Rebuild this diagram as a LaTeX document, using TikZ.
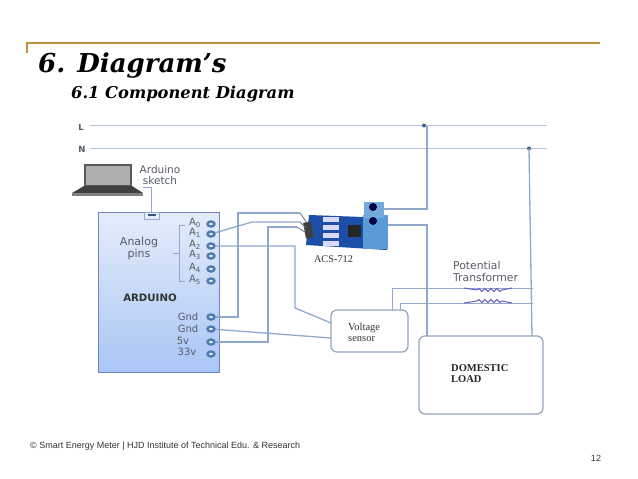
\documentclass[tikz,border=0pt]{standalone}
\usepackage{fontspec}
\setmainfont{Liberation Serif}
\newfontfamily\titlefont{DejaVu Serif}
\newfontfamily\labelfont{DejaVu Sans}
\newfontfamily\footfont{Liberation Sans}
\usetikzlibrary{decorations.pathmorphing, shapes.geometric}
\definecolor{wirec}{HTML}{8FA8CC}
\definecolor{mainsc}{HTML}{B4C4DA}
\definecolor{holec}{HTML}{4F7BAE}
\definecolor{boxc}{HTML}{8FA3BC}
\definecolor{rulec}{HTML}{C08F3C}
\definecolor{pcbc}{HTML}{1C4FA8}
\definecolor{termc}{HTML}{5B9BD5}
\definecolor{coilc}{HTML}{6A5FC0}
\definecolor{textc}{HTML}{555B66}
\definecolor{boardtop}{HTML}{E4ECFA}
\definecolor{boardbot}{HTML}{A9C6F5}
\tikzset{
  wire/.style = {draw=wirec, line width=1.3pt},
  thinwire/.style = {draw=wirec, line width=1pt},
  mains/.style = {draw=mainsc, line width=1.3pt},
  pinhole/.style = {draw=holec, fill=boardtop, ellipse, line width=2.4pt, inner sep=0pt, minimum width=7pt, minimum height=5pt},
  pinname/.style = {font=\labelfont\fontsize{10}{10}\selectfont, text=textc, inner sep=0pt},
  tap/.style = {fill=holec!80!black, circle, inner sep=0pt, minimum size=4pt},
  roundbox/.style = {draw=boxc, fill=white, line width=1.2pt, rounded corners=6pt},
  legwire/.style = {draw=wirec!70!black, line width=.8pt},
  chipres/.style = {fill=white!85!blue, inner sep=0pt, minimum width=16pt, minimum height=5pt},
  coilwire/.style = {draw=coilc, line width=1pt, decoration={snake, segment length=6pt, amplitude=1.5pt}}
}
\begin{document}
\begin{tikzpicture}[x=1pt, y=-1pt]
\useasboundingbox (0,0) rectangle (638,479);

\draw[rulec, line width=1.2pt] (27,53) -- (27,43) -- (600,43);
\node[anchor=base west, inner sep=0pt, font=\titlefont\bfseries\itshape\fontsize{26}{26}\selectfont] (title) at (38,72) {6. Diagram’s};
\node[anchor=base west, inner sep=0pt, font=\titlefont\bfseries\itshape\fontsize{16.3}{16}\selectfont] (subtitle) at (71,98) {6.1 Component Diagram};
\node[anchor=west, inner sep=0pt, font=\footfont\fontsize{9}{9}\selectfont, text=black!80] (foot) at (30,446) {© Smart Energy Meter | HJD Institute of Technical Edu. \& Research};
\node[inner sep=0pt, font=\footfont\fontsize{9}{9}\selectfont, text=black!80] (pageno) at (596,458) {12};

\node[font=\labelfont\bfseries\fontsize{8.5}{8}\selectfont, text=textc, inner sep=0pt] (lname) at (81,127) {L};
\node[font=\labelfont\bfseries\fontsize{8.5}{8}\selectfont, text=textc, inner sep=0pt] (nname) at (82,149) {N};
\coordinate (lstart) at (90,125.5);
\coordinate (lend) at (547,125.5);
\coordinate (nstart) at (90,148.5);
\coordinate (nend) at (547,148.5);
\draw[mains] (lstart) -- (lend);
\draw[mains] (nstart) -- (nend);
\node[tap] (ltap) at (424,125.5) {};
\node[tap] (ntap) at (529,148.5) {};

\node[draw=black!65, fill=black!32, line width=2pt, minimum width=46pt, minimum height=21pt, inner sep=0pt] (screen) at (108,175) {};
\fill[black!75] (84,186) -- (132,186) -- (143,193) -- (72,193) -- cycle;
\node[fill=black!50, minimum width=71pt, minimum height=3pt, inner sep=0pt] (laptop) at (107.5,194.5) {};
\node[align=center, font=\labelfont\fontsize{10.5}{11}\selectfont, text=textc, inner sep=0pt] (sketch) at (160,175.5) {Arduino\\sketch};

\node[draw=boxc!80!blue, top color=boardtop, bottom color=boardbot, line width=1pt, minimum width=121pt, minimum height=160pt, inner sep=0pt] (arduino) at (158.5,292) {};
\node[draw=wirec, fill=boardtop, line width=.8pt, minimum width=15pt, minimum height=7pt, inner sep=0pt] (usb) at (151.5,215.5) {};
\fill[holec!70!black] (148,213.5) rectangle (156,215.5);
\coordinate (lapout) at (143,187);
\coordinate (lapbend) at (151.5,187);
\draw[thinwire] (lapout) -- (lapbend) -- (usb.north);

\node[align=center, font=\labelfont\fontsize{11}{12}\selectfont, text=textc, inner sep=0pt] (analog) at (139,248) {Analog\\pins};
\node[font=\labelfont\bfseries\fontsize{10.2}{10}\selectfont, text=black!80, inner sep=0pt] (board) at (150,298) {ARDUINO};

\node[pinhole] (a0) at (211,224) {};
\node[pinhole] (a1) at (211,234) {};
\node[pinhole] (a2) at (211,246) {};
\node[pinhole] (a3) at (211,256) {};
\node[pinhole] (a4) at (211,269) {};
\node[pinhole] (a5) at (211,281) {};
\node[pinhole] (gnda) at (211,317) {};
\node[pinhole] (gndb) at (211,329) {};
\node[pinhole] (fivev) at (211,342) {};
\node[pinhole] (threev) at (211,354) {};
\node[pinname] (a0name) at (195,223) {A\textsubscript{0}};
\node[pinname] (a1name) at (195,233) {A\textsubscript{1}};
\node[pinname] (a2name) at (195,245) {A\textsubscript{2}};
\node[pinname] (a3name) at (195,255) {A\textsubscript{3}};
\node[pinname] (a4name) at (195,268) {A\textsubscript{4}};
\node[pinname] (a5name) at (195,280) {A\textsubscript{5}};
\node[pinname] (gndaname) at (188,317) {Gnd};
\node[pinname] (gndbname) at (188,329) {Gnd};
\node[pinname] (fivename) at (183,341) {5v};
\node[pinname] (threename) at (187,352) {33v};
\coordinate (brtop) at (179,225);
\coordinate (brtopin) at (185,225);
\coordinate (brbot) at (179,281.5);
\coordinate (brbotin) at (185,281.5);
\coordinate (brmid) at (179,253);
\coordinate (brtick) at (173,253);
\draw[thinwire] (brtopin) -- (brtop) -- (brbot) -- (brbotin);
\draw[thinwire] (brmid) -- (brtick);

\fill[pcbc] (309,215) -- (363,217) -- (387,217) -- (387,250) -- (306,245) -- cycle;
\node[chipres] (resa) at (331,219) {};
\node[chipres] (resb) at (331,227) {};
\node[chipres] (resc) at (331,235) {};
\node[chipres] (resd) at (331,243) {};
\node[fill=black!85, minimum width=13pt, minimum height=12pt, inner sep=0pt] (chip) at (354.5,231) {};
\node[fill=termc, minimum width=25pt, minimum height=34pt, inner sep=0pt] (terminal) at (375.5,232) {};
\node[fill=termc!85!white, minimum width=20pt, minimum height=16pt, inner sep=0pt] (termtop) at (374,210) {};
\node[fill=black!75!blue, circle, minimum size=8pt, inner sep=0pt] (holea) at (373,207) {};
\node[fill=black!75!blue, circle, minimum size=8pt, inner sep=0pt] (holeb) at (373,221) {};
\node[fill=black!75, minimum width=8pt, minimum height=16pt, inner sep=0pt, rotate=10] (header) at (308.5,230) {};
\node[anchor=base, inner sep=0pt, font=\fontsize{10.3}{10}\selectfont, text=black!80] (acsname) at (333.5,262) {ACS-712};
\coordinate (lega) at (300,213);
\coordinate (legb) at (300,222);
\coordinate (legc) at (297,227);
\coordinate (pina) at (307,223);
\coordinate (pinb) at (306,228);
\coordinate (pinc) at (305,232);
\draw[legwire] (lega) -- (pina);
\draw[legwire] (legb) -- (pinb);
\draw[legwire] (legc) -- (pinc);

\node[roundbox, minimum width=77pt, minimum height=42pt, inner sep=0pt] (sensor) at (369.5,331) {};
\node[align=left, anchor=west, inner sep=0pt, font=\fontsize{10.5}{11.5}\selectfont, text=black!80] (sensorname) at (348,332.5) {Voltage\\sensor};
\node[roundbox, minimum width=124pt, minimum height=78pt, inner sep=0pt] (load) at (481,375) {};
\node[align=left, anchor=west, inner sep=0pt, font=\bfseries\fontsize{10.5}{11.5}\selectfont, text=black!85] (loadname) at (451,373.5) {DOMESTIC\\LOAD};
\node[align=left, anchor=west, inner sep=0pt, font=\labelfont\fontsize{10.8}{12}\selectfont, text=textc] (ptname) at (453,271) {Potential\\Transformer};

\coordinate (gndup) at (238,317);
\coordinate (gndtop) at (238,213);
\coordinate (vccup) at (268,342);
\coordinate (vcctop) at (268,227);
\coordinate (asig) at (252,222);
\coordinate (vout) at (295,246);
\coordinate (vdown) at (295,308);
\coordinate (vin) at (331,323);
\coordinate (vgnd) at (331,338);
\draw[wire] (gnda) -- (gndup) -- (gndtop) -- (lega);
\draw[wire] (fivev) -- (vccup) -- (vcctop) -- (legc);
\draw[wire] (a1) -- (asig) -- (legb);
\draw[wire] (a2) -- (vout) -- (vdown) -- (vin);
\draw[wire] (gndb) -- (vgnd);

\coordinate (lbend) at (427,209);
\coordinate (ltop) at (427,125.5);
\coordinate (lterm) at (384,209);
\coordinate (rterm) at (388,225);
\coordinate (rbend) at (427,225);
\coordinate (lloadin) at (427,336);
\coordinate (ndown) at (532,336);
\coordinate (ntop) at (529,148.5);
\draw[wire] (ltop) -- (lbend) -- (lterm);
\draw[wire] (rterm) -- (rbend) -- (lloadin);
\draw[wire] (ntop) -- (ndown);

\coordinate (sa) at (392,310);
\coordinate (sabend) at (392,288);
\coordinate (saend) at (533,288);
\coordinate (sb) at (400,310);
\coordinate (sbbend) at (400,303);
\coordinate (sbend) at (533,303);
\draw[thinwire] (sa) -- (sabend) -- (saend);
\draw[thinwire] (sb) -- (sbbend) -- (sbend);
\coordinate (coila) at (464,288);
\coordinate (coilb) at (477,290);
\coordinate (coilc) at (502,290);
\coordinate (coild) at (512,288);
\coordinate (coile) at (464,303);
\coordinate (coilf) at (477,301);
\coordinate (coilg) at (502,301);
\coordinate (coilh) at (512,303);
\draw[coilwire] (coila) -- (coilb) decorate {-- (coilc)} -- (coild);
\draw[coilwire] (coile) -- (coilf) decorate {-- (coilg)} -- (coilh);
\end{tikzpicture}
\end{document}
